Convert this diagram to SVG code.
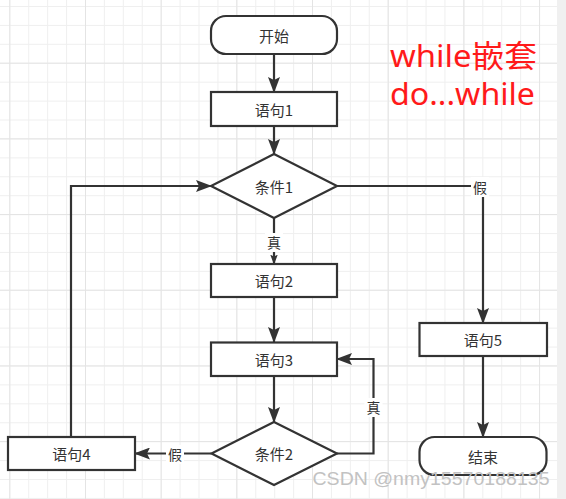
<svg xmlns="http://www.w3.org/2000/svg" width="566" height="499" viewBox="0 0 566 499">
  <defs>
    <pattern id="minor" patternUnits="userSpaceOnUse" x="9.3" y="6" width="18.92" height="18.92">
      <path d="M0.5,0 V18.92 M0,0.5 H18.92" fill="none" stroke="#efefef" stroke-width="1"/>
    </pattern>
    <pattern id="major" patternUnits="userSpaceOnUse" x="9.3" y="-13" width="75.68" height="75.68">
      <path d="M0.5,0 V75.68 M0,0.5 H75.68" fill="none" stroke="#e4e4e4" stroke-width="1"/>
    </pattern>
    <marker id="arr" markerUnits="userSpaceOnUse" viewBox="0 0 16 12" markerWidth="16" markerHeight="12" refX="15" refY="6" orient="auto">
      <path d="M0,0 L16,6 L0,12 L3,6 Z" fill="#333"/>
    </marker>
    <marker id="arrs" markerUnits="userSpaceOnUse" viewBox="0 0 16 12" markerWidth="10" markerHeight="7.5" refX="15" refY="6" orient="auto">
      <path d="M0,0 L16,6 L0,12 L3,6 Z" fill="#333"/>
    </marker>
    <style>
      .shape { fill: #fff; stroke: #333; stroke-width: 2.2; }
      .edge { fill: none; stroke: #333; stroke-width: 2.2; }
      .lbl { font-family: "Noto Sans CJK SC", "Noto Sans", sans-serif; font-size: 15px; fill: #333; text-anchor: middle; dominant-baseline: central; }
      .elbl { font-family: "Noto Sans CJK SC", "Noto Sans", sans-serif; font-size: 14px; fill: #333; text-anchor: middle; dominant-baseline: central; }
      .lblbg { fill: #fff; }
      .red { font-family: "Noto Sans", "Noto Sans CJK SC", sans-serif; font-size: 31px; fill: #ff1a1a; }
      .wm { font-family: "Liberation Sans", Arial, sans-serif; font-size: 18px; fill: #c2c2c2; }
    </style>
  </defs>

  <g id="background">
    <rect x="0" y="0" width="566" height="499" fill="#fff"/>
    <rect x="0" y="0" width="557" height="499" fill="url(#minor)"/>
    <rect x="0" y="0" width="557" height="499" fill="url(#major)"/>
    <rect x="557" y="0" width="9" height="499" fill="#f0f0f0"/>
  </g>

  <g id="connectors">
    <path class="edge" d="M274,54 V92" marker-end="url(#arr)"/>
    <path class="edge" d="M274,126 V154" marker-end="url(#arr)"/>
    <path class="edge" d="M274,218 V264" marker-end="url(#arrs)"/>
    <path class="edge" d="M274,297 V342" marker-end="url(#arr)"/>
    <path class="edge" d="M274,376 V422" marker-end="url(#arr)"/>
    <path class="edge" d="M337,453.5 H373.5 V359 H337" marker-end="url(#arr)"/>
    <path class="edge" d="M211.5,453.5 H135" marker-end="url(#arr)"/>
    <path class="edge" d="M71,437 V186 H211" marker-end="url(#arr)"/>
    <path class="edge" d="M337,186 H483 V323" marker-end="url(#arr)"/>
    <path class="edge" d="M483,356 V437" marker-end="url(#arr)"/>
    <rect class="lblbg" x="265" y="233" width="18" height="19"/>
    <text class="elbl" x="274" y="242">真</text>
    <rect class="lblbg" x="364.5" y="398" width="18" height="19"/>
    <text class="elbl" x="373.5" y="407">真</text>
    <rect class="lblbg" x="166" y="445" width="18" height="19"/>
    <text class="elbl" x="175" y="454">假</text>
    <rect class="lblbg" x="471" y="177" width="18" height="20"/>
    <text class="elbl" x="480" y="187">假</text>
  </g>

  <g id="start">
    <rect class="shape" x="211" y="16" width="126" height="38" rx="15" ry="15"/>
    <text class="lbl" x="274" y="35">开始</text>
  </g>
  <g id="stmt1">
    <rect class="shape" x="211" y="92" width="126" height="34"/>
    <text class="lbl" x="274" y="109">语句1</text>
  </g>
  <g id="cond1">
    <polygon class="shape" points="274,154 337,186 274,218 211,186"/>
    <text class="lbl" x="274" y="186">条件1</text>
  </g>
  <g id="stmt2">
    <rect class="shape" x="211" y="264" width="126" height="33"/>
    <text class="lbl" x="274" y="280.5">语句2</text>
  </g>
  <g id="stmt3">
    <rect class="shape" x="211" y="342.5" width="126" height="33.5"/>
    <text class="lbl" x="274" y="359">语句3</text>
  </g>
  <g id="cond2">
    <polygon class="shape" points="274,422 337,453.5 274,485 211.5,453.5"/>
    <text class="lbl" x="274" y="453.5">条件2</text>
  </g>
  <g id="stmt4">
    <rect class="shape" x="8" y="437" width="127" height="33"/>
    <text class="lbl" x="71.5" y="453.5">语句4</text>
  </g>
  <g id="stmt5">
    <rect class="shape" x="419.5" y="323" width="127.5" height="33"/>
    <text class="lbl" x="483" y="339.5">语句5</text>
  </g>
  <g id="end">
    <rect class="shape" x="419.5" y="437" width="127" height="38" rx="15" ry="15"/>
    <text class="lbl" x="483" y="456">结束</text>
  </g>

  <g id="title">
    <text class="red" x="390" y="67" textLength="147" lengthAdjust="spacingAndGlyphs">while嵌套</text>
    <text class="red" x="390" y="105" textLength="145" lengthAdjust="spacingAndGlyphs">do...while</text>
  </g>
  <g id="watermark">
    <text class="wm" x="312.5" y="485" textLength="237" lengthAdjust="spacingAndGlyphs">CSDN @nmy15570188135</text>
  </g>
</svg>
